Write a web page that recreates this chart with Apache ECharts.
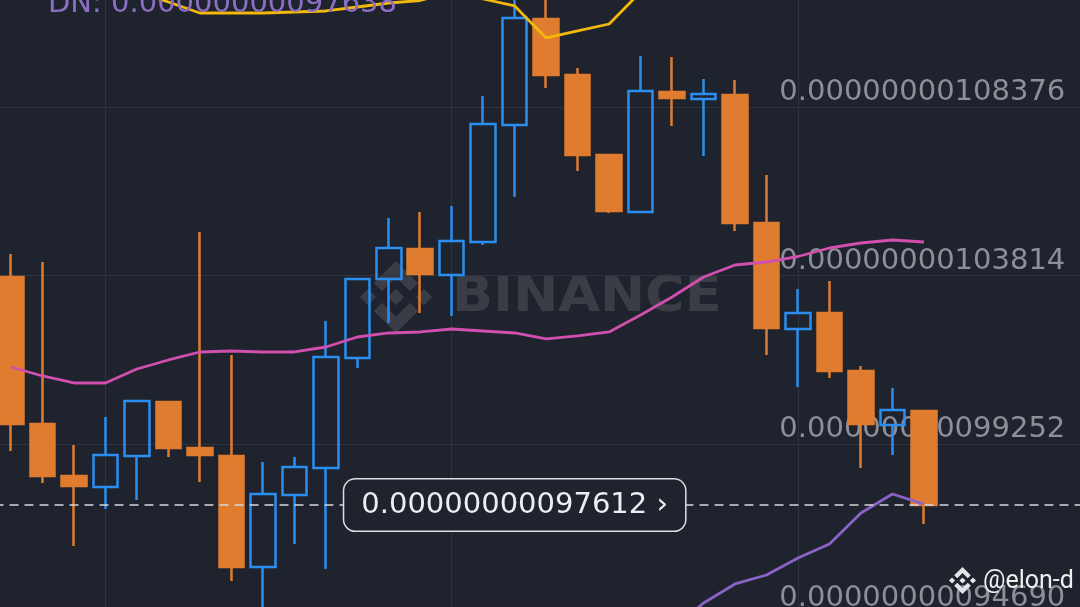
<!DOCTYPE html>
<html>
<head>
<meta charset="utf-8">
<script src="https://cdn.jsdelivr.net/npm/echarts@6/dist/echarts.min.js"></script>
<style>
html,body{margin:0;padding:0;background:#1f232d;}
#c{width:1080px;height:607px;}
</style>
</head>
<body>
<div id="c"></div>
<script>
// Prices are stored in units of 1e-14 (e.g. 108376 -> 0.00000000108376)
// First category is an empty slot left of the first visible candle.
const categories = ['0','1','2','3','4','5','6','7','8','9','10','11','12','13','14','15','16','17','18','19','20','21','22','23','24','25','26','27','28','29','30','31','32','33','34','35'];
const openP  = [103779, 99804, 98398, 98101, 98939, 100399, 99155, 98939, 95937, 97884, 98614, 101589, 103725, 104536, 103833, 104725, 107889, 110755, 109241, 107078, 105537, 108781, 108592, 108700, 105239, 102373, 102805, 101237, 99777, 100156];
const closeP = [99804, 98398, 98128, 98966, 100426, 99155, 98966, 95937, 97911, 98641, 101616, 103725, 104563, 103860, 104752, 107916, 110782, 109241, 107078, 105564, 108808, 108619, 108727, 105239, 102400, 102805, 101237, 99804, 100183, 97612];
const lowP   = [99074, 98209, 96505, 97506, 97749, 98912, 98236, 95559, 94700, 96559, 95883, 101318, 102535, 102805, 102724, 104644, 105942, 108889, 106645, 105510, 105510, 107862, 107051, 105023, 101670, 100805, 101048, 98614, 98966, 97100];
const highP  = [104401, 104185, 99236, 99993, 100426, 100399, 104996, 101670, 98777, 98912, 102589, 103725, 105374, 105537, 105699, 108673, 111400, 111400, 109430, 107078, 109755, 109728, 109133, 109106, 106537, 103454, 103671, 101372, 100777, 100156];
const bollUp  = [111540, 111675, 111756, 111675, 111486, 111215, 110918, 110918, 110918, 110945, 110972, 111080, 111188, 111256, 111486, 111296, 111107, 110242, 110431, 110620, 111485, 112242, 112594, 112728, 112647, 112485, 112567, 111999, 111647, 111812];
const bollMid = [101345, 101102, 100913, 100913, 101291, 101535, 101751, 101778, 101751, 101751, 101886, 102156, 102265, 102292, 102373, 102319, 102265, 102103, 102184, 102292, 102752, 103238, 103779, 104103, 104184, 104333, 104563, 104698, 104779, 104725];
const bollDn  = [91150, 90529, 90070, 90151, 91096, 91855, 92584, 92638, 92584, 92557, 92800, 93232, 93342, 93328, 93260, 93342, 93423, 93964, 93937, 93964, 94019, 94234, 94964, 95478, 95721, 96181, 96559, 97397, 97911, 97638];
const yTicks = [108376, 103814, 99252, 94690];
const lastPrice = 97612;
const lastPriceCandle = 16;
const dnValue = 97638;

function fmt(v) { return '0.' + String(Math.round(v)).padStart(14, '0'); }

const LEAD = ['-'];
const candleData = LEAD.concat(openP.map((o, i) => [o, closeP[i], lowP[i], highP[i]]));

const FONT = 'DejaVu Sans';
// Binance logo outline (126.6 x 126.6 design units)
const logoShapes = [
  [[38.73,53.2],[63.3,28.63],[87.89,53.22],[102.19,38.92],[63.3,0],[24.42,38.91]],
  [[0,63.31],[14.3,49.01],[28.6,63.31],[14.3,77.61]],
  [[38.73,73.41],[63.3,97.99],[87.89,73.4],[102.19,87.7],[63.3,126.61],[24.42,87.71]],
  [[98,63.31],[112.3,49.01],[126.6,63.31],[112.3,77.61]],
  [[77.83,63.3],[63.3,48.78],[48.78,63.3],[63.3,77.83]]
];
function logo(x, y, size, fill, z) {
  const s = size / 126.6;
  return {
    type: 'group', x: x, y: y, scaleX: s, scaleY: s, z: z, silent: true,
    children: logoShapes.map(p => ({ type: 'polygon', z: z, shape: { points: p }, style: { fill: fill } }))
  };
}

const chart = echarts.init(document.getElementById('c'), null, { renderer: 'canvas' });
chart.setOption({
  backgroundColor: '#1f232d',
  animation: false,
  title: {
    text: 'DN: ' + fmt(dnValue),
    left: 48, top: -10, padding: 0,
    textStyle: { color: '#8b6fc4', fontSize: 29, fontWeight: 'normal', fontFamily: FONT }
  },
  grid: { left: -20.48, width: 1101.8, top: 0, height: 614, outerBoundsMode: 'none', containLabel: false },
  xAxis: {
    type: 'category', data: categories, boundaryGap: false,
    axisLine: { show: false }, axisTick: { show: false }, axisLabel: { show: false },
    splitLine: { show: true, interval: function (i) { return i % 11 === 4; }, lineStyle: { color: '#2e333e', width: 1 } }
  },
  yAxis: {
    type: 'value', position: 'right', min: 94666, max: 111269,
    axisLine: { show: false },
    axisTick: { show: false, customValues: yTicks },
    axisLabel: {
      inside: true, customValues: yTicks, margin: 16, verticalAlign: 'bottom',
      formatter: function (v) { return fmt(v); },
      color: '#8b9099', fontSize: 29, fontFamily: FONT
    },
    splitLine: { show: true, lineStyle: { color: '#2e333e', width: 1 } }
  },
  graphic: [
    logo(360, 261, 72, 'rgba(255,255,255,0.12)', 0),
    { type: 'text', z: 0, silent: true, x: 452, y: 298, scaleX: 1.1,
      style: { text: 'BINANCE', fill: 'rgba(255,255,255,0.12)', font: 'bold 49px "DejaVu Sans"', textVerticalAlign: 'middle', textAlign: 'left' } },
    logo(949, 567, 27, '#e4e5e8', 100),
    { type: 'text', z: 100, silent: true, x: 983, y: 582,
      style: { text: '@elon-d', fill: '#eeeeee', font: '25px Roboto', textVerticalAlign: 'middle', textAlign: 'left' } }
  ],
  series: [
    {
      type: 'candlestick', data: candleData, barWidth: 25, clip: false, z: 2,
      itemStyle: {
        color: 'transparent', color0: '#e07c2f',
        borderColor: '#2a8ff0', borderColor0: '#e07c2f', borderWidth: 2.5
      }
    },
    { type: 'line', name: 'UP', data: LEAD.concat(bollUp), symbol: 'none', z: 3, clip: false,
      lineStyle: { color: '#f0b90b', width: 2.8 } },
    { type: 'line', name: 'MB', data: LEAD.concat(bollMid), symbol: 'none', z: 3, clip: false,
      lineStyle: { color: '#d14fae', width: 2.8 },
      markLine: {
        z: 4, silent: true, symbol: 'none',
        label: { show: false },
        lineStyle: { color: '#d5d7db', type: [9, 6], width: 1.5 },
        data: [{ yAxis: lastPrice }]
      },
      markPoint: {
        z: 6, silent: true, symbol: 'rect', symbolSize: 0,
        label: {
          show: true, position: 'inside',
          formatter: function () { return fmt(lastPrice) + ' \u203A'; },
          color: '#eceef1', fontSize: 29, fontFamily: FONT,
          backgroundColor: '#1f232d', borderColor: '#dcdee2', borderWidth: 1.5, borderRadius: 11,
          padding: [11, 17, 11, 17]
        },
        data: [{ coord: [categories[lastPriceCandle + 1], lastPrice] }]
      }
    },
    { type: 'line', name: 'DN', data: LEAD.concat(bollDn), symbol: 'none', z: 3, clip: false,
      lineStyle: { color: '#8a63c8', width: 2.8 } }
  ]
});
</script>
</body>
</html>
